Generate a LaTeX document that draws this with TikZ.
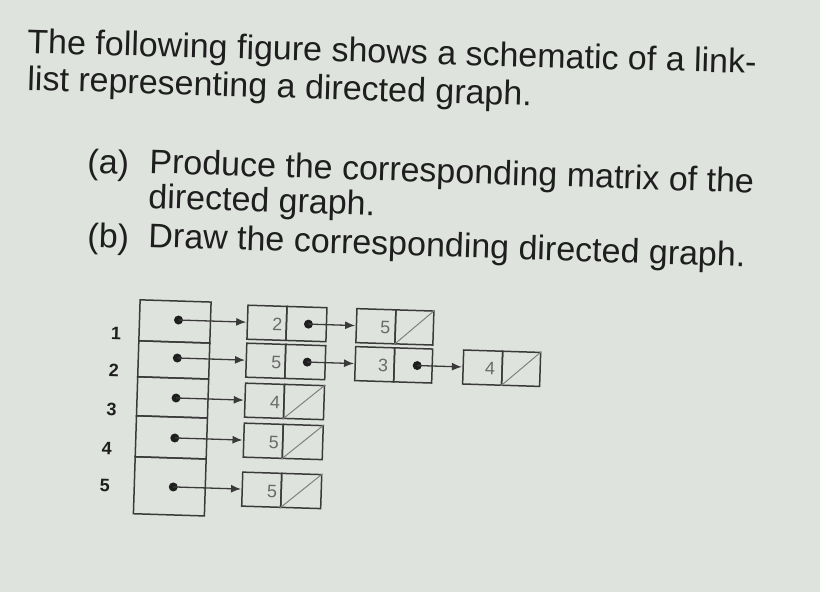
\documentclass[tikz,border=0pt]{standalone}
\usepackage{fontspec}
\setmainfont{Liberation Sans}
\usetikzlibrary{arrows.meta}
\definecolor{bg}{HTML}{DFE3DE}
\definecolor{ink}{HTML}{1E1E1E}
\definecolor{boxc}{HTML}{3A3A3A}
\definecolor{numc}{HTML}{6A6A6A}
\definecolor{slashc}{HTML}{808080}
\begin{document}
\begin{tikzpicture}[x=1pt,y=-1pt,
  txt/.style={anchor=base west, inner sep=0pt, font=\fontsize{34}{40}\selectfont, text=ink},
  lbl/.style={font=\bfseries\fontsize{18}{20}\selectfont, text=ink, inner sep=0pt},
  num/.style={font=\fontsize{18}{20}\selectfont, text=numc, inner sep=0pt},
  hrow/.style={draw=boxc, line width=1.5pt, minimum width=71pt, inner sep=0pt},
  cellbox/.style={draw=boxc, line width=1.5pt, minimum height=34pt, inner sep=0pt},
  dotn/.style={circle, fill=ink, inner sep=0pt, minimum size=9pt},
  arr/.style={draw=boxc, line width=1.3pt, -{Latex[length=10pt,width=8pt]}, shorten >=0.5pt},
  slash/.style={draw=slashc, line width=1pt}
]
\fill[bg] (0,0) rectangle (820,592);
\useasboundingbox (0,0) rectangle (820,592);

% question text
\node[txt, rotate=-1.6] (t1) at (27,53) {The following figure shows a schematic of a link-};
\node[txt, rotate=-1.8] (t2) at (27,90) {list representing a directed graph.};
\node[txt, rotate=-1.9] (qa) at (87,173) {(a)};
\node[txt, rotate=-1.9] (qat) at (149,173) {Produce the corresponding matrix of the};
\node[txt, rotate=-1.9] (qat2) at (148,208) {directed graph.};
\node[txt, rotate=-1.9] (qb) at (87,247) {(b)};
\node[txt, rotate=-1.9] (qbt) at (148,247) {Draw the corresponding directed graph.};

\begin{scope}[rotate around={-1.8:(176,400)}, transform shape]
% row labels
\node[lbl] (l1) at (114,335) {1};
\node[lbl] (l2) at (113,372) {2};
\node[lbl] (l3) at (112,411) {3};
\node[lbl] (l4) at (108.5,451) {4};
\node[lbl] (l5) at (107.5,488) {5};

% header column
\node[hrow, minimum height=41pt] (h1) at (172.5,321.5) {};
\node[hrow, minimum height=36pt] (h2) at (172.5,360) {};
\node[hrow, minimum height=39pt] (h3) at (172.5,397.5) {};
\node[hrow, minimum height=41pt] (h4) at (172.5,437.5) {};
\node[hrow, minimum height=57pt] (h5) at (172.5,486.5) {};

\node[dotn] (p1) at (176,320) {};
\node[dotn] (p2) at (176,358) {};
\node[dotn] (p3) at (176,398) {};
\node[dotn] (p4) at (176,438) {};
\node[dotn] (p5) at (176,487) {};

% level 1 list nodes
\foreach \r/\y/\v in {1/320/2, 2/358/5, 3/398/4, 4/438/5, 5/487/5}{
  \node[cellbox, minimum width=39pt] (a\r) at (264.5,\y) {};
  \node[cellbox, minimum width=40pt] (b\r) at (304,\y) {};
  \node[num] (v\r) at (275,\y+1) {\v};
}
\foreach \r in {3,4,5}{ \draw[slash] (b\r.south west) -- (b\r.north east); }
\node[dotn] (q1) at (306,320) {};
\node[dotn] (q2) at (306,358) {};

% level 2 list nodes
\node[cellbox, minimum width=39pt] (c1) at (373.5,320) {};
\node[cellbox, minimum width=38pt] (e1) at (412,320) {};
\node[num] (w1) at (383,321) {5};
\draw[slash] (e1.south west) -- (e1.north east);
\node[cellbox, minimum width=39pt] (c2) at (373.5,358) {};
\node[cellbox, minimum width=38pt] (e2) at (412,358) {};
\node[num] (w2) at (382,359) {3};
\node[dotn] (r2) at (416,358) {};

% level 3 list node
\node[cellbox, minimum width=39pt] (f2) at (481.5,358) {};
\node[cellbox, minimum width=38pt] (g2) at (520,358) {};
\node[num] (x2) at (489,359) {4};
\draw[slash] (g2.south west) -- (g2.north east);

% connectors
\foreach \r in {1,...,5}{ \draw[arr] (p\r.center) -- (a\r.west); }
\draw[arr] (q1.center) -- (c1.west);
\draw[arr] (q2.center) -- (c2.west);
\draw[arr] (r2.center) -- (f2.west);
\end{scope}
\end{tikzpicture}
\end{document}
